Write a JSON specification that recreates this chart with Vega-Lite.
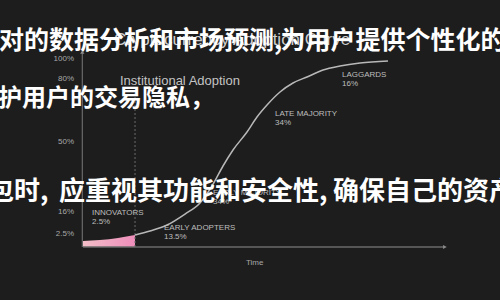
{
  "$schema": "https://vega.github.io/schema/vega-lite/v6.json",
  "width": 363,
  "height": 195,
  "autosize": {"type": "none"},
  "padding": {"left": 83, "top": 52, "right": 54, "bottom": 53},
  "background": "#1d1d1d",
  "config": {"view": {"stroke": null}},
  "datasets": {
    "curve": [
      {"t": 14.33, "a": 6.15},
      {"t": 18.46, "a": 8.21},
      {"t": 23.14, "a": 11.28},
      {"t": 28.10, "a": 16.92},
      {"t": 32.23, "a": 22.6},
      {"t": 35.54, "a": 31.28},
      {"t": 38.57, "a": 41.54},
      {"t": 41.32, "a": 49.74},
      {"t": 45.18, "a": 58.97},
      {"t": 47.93, "a": 66.67},
      {"t": 50.69, "a": 72.82},
      {"t": 54.27, "a": 79.49},
      {"t": 57.85, "a": 84.10},
      {"t": 61.71, "a": 87.18},
      {"t": 66.12, "a": 90.77},
      {"t": 70.80, "a": 92.82},
      {"t": 76.31, "a": 94.36},
      {"t": 84.02, "a": 95.38}
    ],
    "innovators": [
      {"t": 0, "a": 3.08},
      {"t": 4.68, "a": 3.59},
      {"t": 9.64, "a": 4.62},
      {"t": 14.33, "a": 6.15}
    ],
    "yaxis": [{"t": -0.2, "a": 0, "a2": 100}],
    "xaxis": [{"t": 0, "t2": 99.7, "a": 0}],
    "divider": [{"t": 14.33, "a": 0, "a2": 79.5}],
    "arrowsUp": [{"t": -0.2, "a": 100}],
    "arrowsRight": [{"t": 99.7, "a": 0}],
    "ticks": [
      {"t": -2.48, "a": 96.41, "label": "100%"},
      {"t": -2.48, "a": 86.15, "label": "80%"},
      {"t": -2.48, "a": 53.85, "label": "50%"},
      {"t": -2.48, "a": 17.95, "label": "16%"},
      {"t": -2.48, "a": 6.67, "label": "2.5%"}
    ],
    "phases": [
      {"t": 2.48, "a": 17.44, "label": "INNOVATORS"},
      {"t": 2.48, "a": 12.82, "label": "2.5%"},
      {"t": 22.31, "a": 9.74, "label": "EARLY ADOPTERS"},
      {"t": 22.31, "a": 5.13, "label": "13.5%"},
      {"t": 35.81, "a": 27.69, "label": "EARLY MAJORITY"},
      {"t": 35.81, "a": 23.08, "label": "34%"},
      {"t": 52.89, "a": 68.21, "label": "LATE MAJORITY"},
      {"t": 52.89, "a": 63.59, "label": "34%"},
      {"t": 71.35, "a": 88.21, "label": "LAGGARDS"},
      {"t": 71.35, "a": 83.59, "label": "16%"}
    ],
    "title": [{"t": 41.05, "a": 106.15, "label": "Cryptocurrency Adoption Curve"}],
    "subtitle": [{"t": 10.19, "a": 85.13, "label": "Institutional Adoption"}],
    "xlabel": [{"t": 44.9, "a": -8.21, "label": "Time"}],
    "overlay1": [
      {"t": -23.14, "a": 105.64, "label": "对的数据分析和市场预测,"},
      {"t": 54.41, "a": 105.64, "label": "为用户提供个性化的"}
    ],
    "overlay2": [
      {"t": -23.42, "a": 75.9, "label": "护用户的交易隐私，"}
    ],
    "overlay3": [
      {"t": -26.17, "a": 28.21, "label": "包时,"},
      {"t": -6.61, "a": 28.21, "label": "应重视其功能和安全性,"},
      {"t": 68.87, "a": 28.21, "label": "确保自己的资产"}
    ]
  },
  "encoding": {
    "x": {"field": "t", "type": "quantitative", "scale": {"domain": [0, 100], "nice": false, "zero": false}, "axis": null},
    "y": {"field": "a", "type": "quantitative", "scale": {"domain": [0, 100], "nice": false, "zero": false}, "axis": null}
  },
  "layer": [
    {
      "data": {"name": "innovators"},
      "mark": {"type": "area", "interpolate": "monotone", "color": {"gradient": "linear", "x1": 0, "y1": 0, "x2": 1, "y2": 0, "stops": [{"offset": 0, "color": "#f3bfc8"}, {"offset": 1, "color": "#ee8dba"}]}},
      "encoding": {"y2": {"datum": 0}}
    },
    {
      "data": {"name": "divider"},
      "mark": {"type": "rule", "color": "#6a6a6a", "strokeWidth": 1, "strokeDash": [2, 2]},
      "encoding": {"y2": {"field": "a2"}}
    },
    {
      "data": {"name": "yaxis"},
      "mark": {"type": "rule", "color": "#7a7a7a", "strokeWidth": 1},
      "encoding": {"y2": {"field": "a2"}}
    },
    {
      "data": {"name": "xaxis"},
      "mark": {"type": "rule", "color": "#6a6a6a", "strokeWidth": 1.5},
      "encoding": {"x2": {"field": "t2"}}
    },
    {
      "data": {"name": "arrowsUp"},
      "mark": {"type": "point", "shape": "triangle-up", "filled": true, "size": 18, "color": "#8a8a8a", "opacity": 1}
    },
    {
      "data": {"name": "arrowsRight"},
      "mark": {"type": "point", "shape": "triangle-right", "filled": true, "size": 18, "color": "#8a8a8a", "opacity": 1}
    },
    {
      "data": {"name": "curve"},
      "mark": {"type": "line", "interpolate": "monotone", "color": "#b8b8b8", "strokeWidth": 1.5}
    },
    {
      "data": {"name": "ticks"},
      "mark": {"type": "text", "align": "right", "baseline": "middle", "font": "Liberation Sans", "fontSize": 8, "color": "#a8a8a8"},
      "encoding": {"text": {"field": "label"}}
    },
    {
      "data": {"name": "phases"},
      "mark": {"type": "text", "align": "left", "baseline": "middle", "font": "Liberation Sans", "fontSize": 8, "color": "#bdbdbd"},
      "encoding": {"text": {"field": "label"}}
    },
    {
      "data": {"name": "subtitle"},
      "mark": {"type": "text", "align": "left", "baseline": "middle", "font": "Liberation Sans", "fontSize": 13, "color": "#c4c4c4"},
      "encoding": {"text": {"field": "label"}}
    },
    {
      "data": {"name": "xlabel"},
      "mark": {"type": "text", "align": "left", "baseline": "middle", "font": "Liberation Sans", "fontSize": 8, "color": "#a8a8a8"},
      "encoding": {"text": {"field": "label"}}
    },
    {
      "data": {"name": "title"},
      "mark": {"type": "text", "align": "center", "baseline": "middle", "font": "Liberation Sans", "fontSize": 17, "color": "#cfcfcf"},
      "encoding": {"text": {"field": "label"}}
    },
    {
      "data": {"name": "overlay1"},
      "mark": {"type": "text", "align": "left", "baseline": "middle", "font": "Noto Sans CJK SC", "fontWeight": "bold", "fontSize": 25, "color": "#ffffff"},
      "encoding": {"text": {"field": "label"}}
    },
    {
      "data": {"name": "overlay2"},
      "mark": {"type": "text", "align": "left", "baseline": "middle", "font": "Noto Sans CJK SC", "fontWeight": "bold", "fontSize": 24, "color": "#ffffff"},
      "encoding": {"text": {"field": "label"}}
    },
    {
      "data": {"name": "overlay3"},
      "mark": {"type": "text", "align": "left", "baseline": "middle", "font": "Noto Sans CJK SC", "fontWeight": "bold", "fontSize": 26, "color": "#ffffff"},
      "encoding": {"text": {"field": "label"}}
    }
  ]
}
